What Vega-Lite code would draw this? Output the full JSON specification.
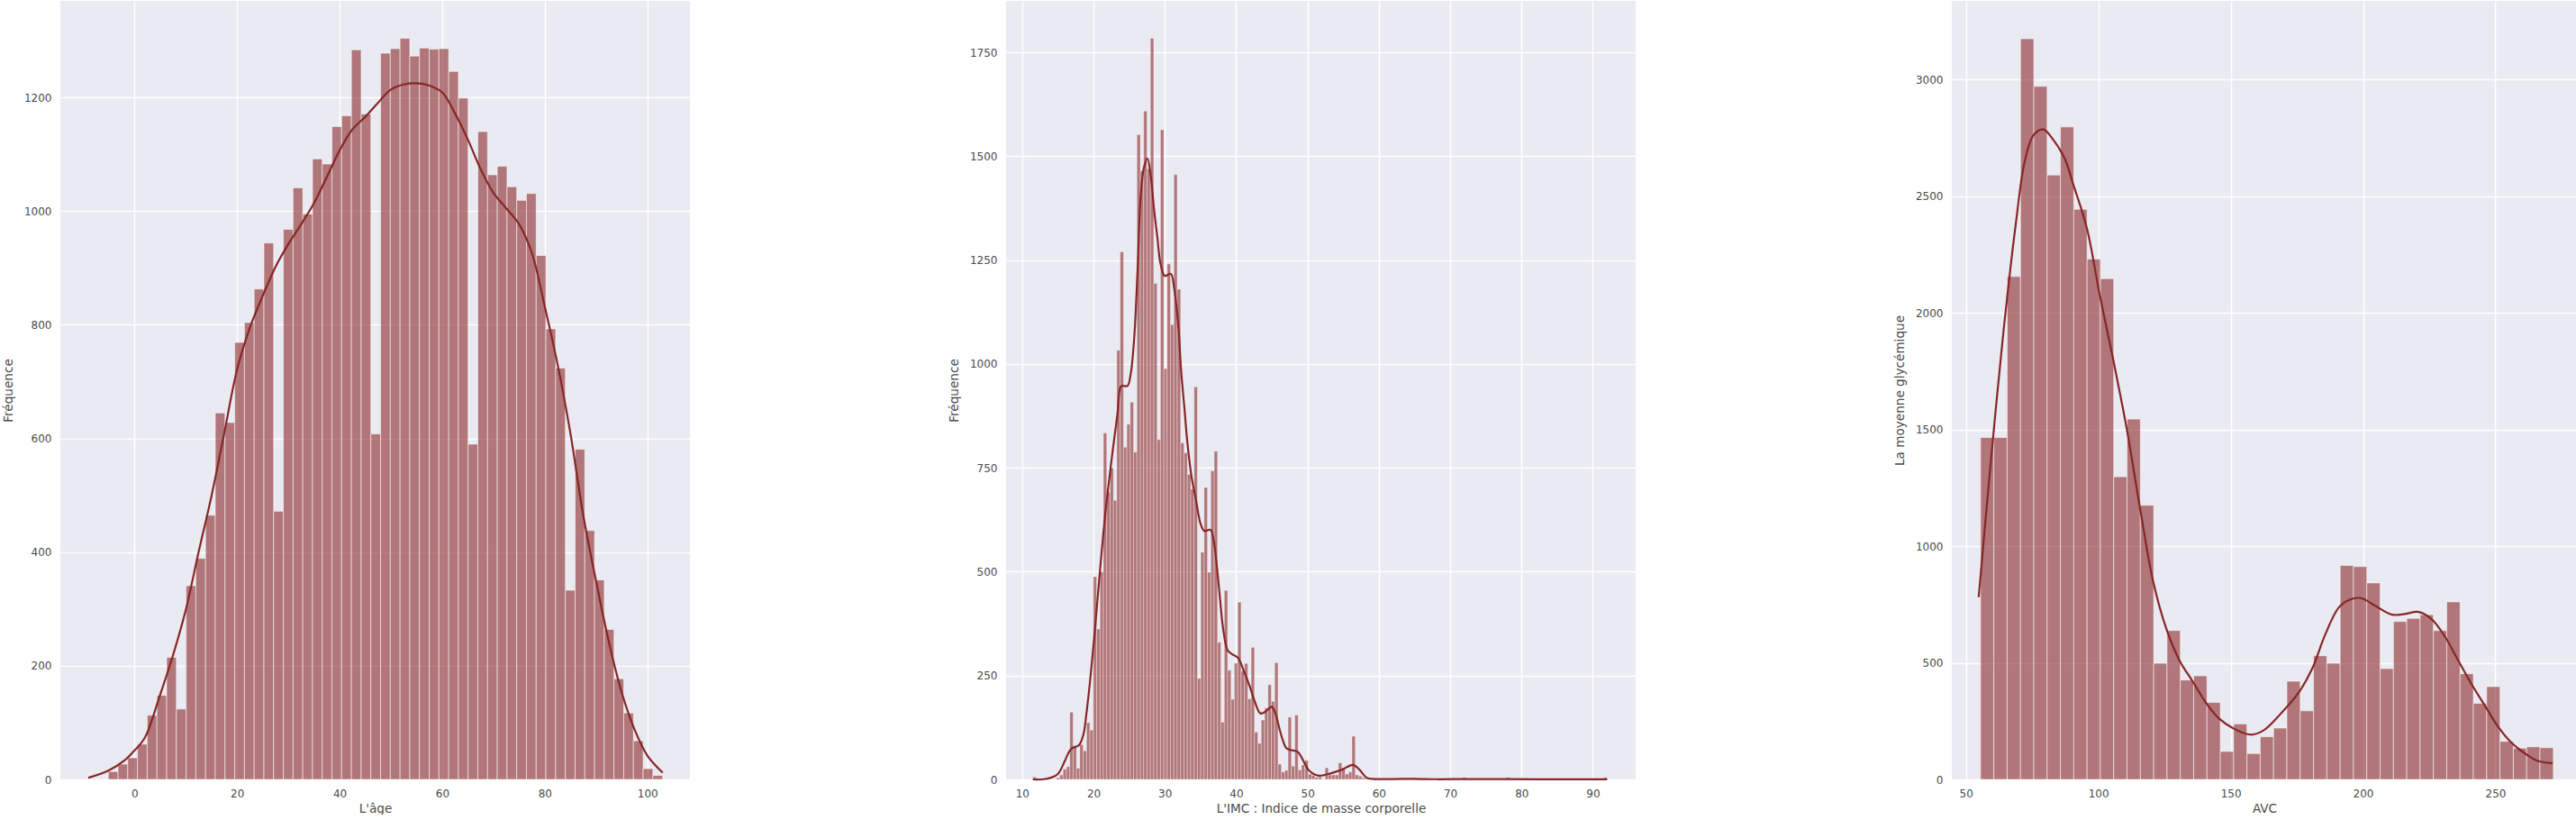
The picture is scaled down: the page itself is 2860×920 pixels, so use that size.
{"$schema":"https://vega.github.io/schema/vega-lite/v6.json","background":"white","padding":{"left":2,"top":1,"right":0,"bottom":0},"bounds":"flush","spacing":351,
"config":{"view":{"stroke":null,"fill":"#eaeaf2"},"font":"DejaVu Sans","axis":{"domain":false,"ticks":false,"grid":true,"gridColor":"#ffffff","gridWidth":1.5,"labelFont":"DejaVu Sans","titleFont":"DejaVu Sans","labelFontSize":12,"titleFontSize":13.6,"labelColor":"#4a4a4a","titleColor":"#4a4a4a","titleFontWeight":"normal","labelPadding":10,"format":"d"}},
"hconcat":[
{"width":699,"height":864,"layer":[
{"data":{"values":[{"a":-5.1,"b":-3.2,"c":14},{"a":-3.2,"b":-1.31,"c":27},{"a":-1.31,"b":0.59,"c":38},{"a":0.59,"b":2.48,"c":62},{"a":2.48,"b":4.38,"c":113},{"a":4.38,"b":6.28,"c":148},{"a":6.28,"b":8.17,"c":215},{"a":8.17,"b":10.07,"c":124},{"a":10.07,"b":11.96,"c":341},{"a":11.96,"b":13.86,"c":389},{"a":13.86,"b":15.76,"c":465},{"a":15.76,"b":17.65,"c":645},{"a":17.65,"b":19.55,"c":628},{"a":19.55,"b":21.44,"c":769},{"a":21.44,"b":23.34,"c":804},{"a":23.34,"b":25.24,"c":863},{"a":25.24,"b":27.13,"c":944},{"a":27.13,"b":29.03,"c":472},{"a":29.03,"b":30.92,"c":968},{"a":30.92,"b":32.82,"c":1041},{"a":32.82,"b":34.72,"c":995},{"a":34.72,"b":36.61,"c":1092},{"a":36.61,"b":38.51,"c":1083},{"a":38.51,"b":40.4,"c":1149},{"a":40.4,"b":42.3,"c":1168},{"a":42.3,"b":44.2,"c":1284},{"a":44.2,"b":46.09,"c":1171},{"a":46.09,"b":47.99,"c":608},{"a":47.99,"b":49.88,"c":1278},{"a":49.88,"b":51.78,"c":1286},{"a":51.78,"b":53.68,"c":1304},{"a":53.68,"b":55.57,"c":1273},{"a":55.57,"b":57.47,"c":1287},{"a":57.47,"b":59.36,"c":1285},{"a":59.36,"b":61.26,"c":1286},{"a":61.26,"b":63.16,"c":1246},{"a":63.16,"b":65.05,"c":1199},{"a":65.05,"b":66.95,"c":590},{"a":66.95,"b":68.84,"c":1140},{"a":68.84,"b":70.74,"c":1064},{"a":70.74,"b":72.64,"c":1079},{"a":72.64,"b":74.53,"c":1043},{"a":74.53,"b":76.43,"c":1019},{"a":76.43,"b":78.32,"c":1031},{"a":78.32,"b":80.22,"c":922},{"a":80.22,"b":82.12,"c":793},{"a":82.12,"b":84.01,"c":724},{"a":84.01,"b":85.91,"c":333},{"a":85.91,"b":87.8,"c":581},{"a":87.8,"b":89.7,"c":438},{"a":89.7,"b":91.6,"c":351},{"a":91.6,"b":93.49,"c":264},{"a":93.49,"b":95.39,"c":177},{"a":95.39,"b":97.28,"c":117},{"a":97.28,"b":99.18,"c":68},{"a":99.18,"b":101.08,"c":19},{"a":101.08,"b":103,"c":7}]},
"mark":{"type":"bar","color":"#801515","fillOpacity":0.55,"stroke":"#ffffff","strokeWidth":0.8,"strokeOpacity":0.7},
"encoding":{"x":{"field":"a","type":"quantitative","scale":{"domain":[-14.45,108.3],"nice":false,"zero":false},"axis":{"values":[0,20,40,60,80,100],"title":"L'âge","titleY":25}},"x2":{"field":"b"},"y":{"field":"c","type":"quantitative","scale":{"domain":[0,1370],"nice":false},"axis":{"values":[0,200,400,600,800,1000,1200],"title":"Fréquence","titleX":-51}},"y2":{"datum":0}}},
{"data":{"values":[{"x":-9,"y":3},{"x":-5,"y":16},{"x":-2,"y":33},{"x":0,"y":51},{"x":2,"y":73},{"x":5,"y":149},{"x":7.5,"y":218},{"x":10,"y":298},{"x":12.5,"y":400},{"x":15,"y":498},{"x":17.5,"y":609},{"x":20,"y":721},{"x":22.5,"y":795},{"x":25,"y":851},{"x":27.5,"y":902},{"x":30,"y":942},{"x":32.5,"y":977},{"x":35,"y":1014},{"x":37.5,"y":1060},{"x":40,"y":1107},{"x":42.5,"y":1144},{"x":45,"y":1166},{"x":47.5,"y":1191},{"x":50,"y":1214},{"x":52.5,"y":1223},{"x":55,"y":1225},{"x":57.5,"y":1221},{"x":60,"y":1209},{"x":62.5,"y":1172},{"x":65,"y":1126},{"x":67.5,"y":1074},{"x":70,"y":1032},{"x":72.5,"y":1005},{"x":75,"y":977},{"x":77.5,"y":926},{"x":80,"y":832},{"x":82.5,"y":730},{"x":85,"y":609},{"x":87.5,"y":465},{"x":90,"y":349},{"x":92.5,"y":242},{"x":95,"y":153},{"x":97.5,"y":88},{"x":100,"y":42},{"x":103,"y":12}]},
"mark":{"type":"line","color":"#872626","strokeWidth":2.2,"interpolate":"catmull-rom"},
"encoding":{"x":{"field":"x","type":"quantitative"},"y":{"field":"y","type":"quantitative"}}}
]},
{"width":699,"height":864,"layer":[
{"data":{"values":[{"a":11.5,"b":11.97,"c":6},{"a":14.32,"b":14.8,"c":1},{"a":14.8,"b":15.27,"c":4},{"a":15.27,"b":15.74,"c":11},{"a":15.74,"b":16.21,"c":25},{"a":16.21,"b":16.68,"c":31},{"a":16.68,"b":17.15,"c":162},{"a":17.15,"b":17.62,"c":80},{"a":17.62,"b":18.09,"c":27},{"a":18.09,"b":18.56,"c":84},{"a":18.56,"b":19.03,"c":69},{"a":19.03,"b":19.5,"c":137},{"a":19.5,"b":19.97,"c":119},{"a":19.97,"b":20.45,"c":488},{"a":20.45,"b":20.92,"c":362},{"a":20.92,"b":21.39,"c":500},{"a":21.39,"b":21.86,"c":834},{"a":21.86,"b":22.33,"c":692},{"a":22.33,"b":22.8,"c":750},{"a":22.8,"b":23.27,"c":672},{"a":23.27,"b":23.74,"c":1033},{"a":23.74,"b":24.21,"c":1270},{"a":24.21,"b":24.68,"c":800},{"a":24.68,"b":25.15,"c":855},{"a":25.15,"b":25.62,"c":908},{"a":25.62,"b":26.09,"c":788},{"a":26.09,"b":26.57,"c":1552},{"a":26.57,"b":27.04,"c":1465},{"a":27.04,"b":27.51,"c":1609},{"a":27.51,"b":27.98,"c":1470},{"a":27.98,"b":28.45,"c":1784},{"a":28.45,"b":28.92,"c":1194},{"a":28.92,"b":29.39,"c":818},{"a":29.39,"b":29.86,"c":1564},{"a":29.86,"b":30.33,"c":989},{"a":30.33,"b":30.8,"c":1241},{"a":30.8,"b":31.27,"c":1095},{"a":31.27,"b":31.74,"c":1456},{"a":31.74,"b":32.22,"c":1180},{"a":32.22,"b":32.69,"c":810},{"a":32.69,"b":33.16,"c":786},{"a":33.16,"b":33.63,"c":734},{"a":33.63,"b":34.1,"c":699},{"a":34.1,"b":34.57,"c":945},{"a":34.57,"b":35.04,"c":243},{"a":35.04,"b":35.51,"c":547},{"a":35.51,"b":35.98,"c":703},{"a":35.98,"b":36.45,"c":499},{"a":36.45,"b":36.92,"c":743},{"a":36.92,"b":37.39,"c":790},{"a":37.39,"b":37.86,"c":330},{"a":37.86,"b":38.34,"c":138},{"a":38.34,"b":38.81,"c":455},{"a":38.81,"b":39.28,"c":263},{"a":39.28,"b":39.75,"c":193},{"a":39.75,"b":40.22,"c":280},{"a":40.22,"b":40.69,"c":427},{"a":40.69,"b":41.16,"c":261},{"a":41.16,"b":41.63,"c":279},{"a":41.63,"b":42.1,"c":194},{"a":42.1,"b":42.57,"c":318},{"a":42.57,"b":43.04,"c":114},{"a":43.04,"b":43.51,"c":87},{"a":43.51,"b":43.99,"c":143},{"a":43.99,"b":44.46,"c":172},{"a":44.46,"b":44.93,"c":228},{"a":44.93,"b":45.4,"c":188},{"a":45.4,"b":45.87,"c":281},{"a":45.87,"b":46.34,"c":37},{"a":46.34,"b":46.81,"c":18},{"a":46.81,"b":47.28,"c":22},{"a":47.28,"b":47.75,"c":150},{"a":47.75,"b":48.22,"c":32},{"a":48.22,"b":48.69,"c":155},{"a":48.69,"b":49.16,"c":23},{"a":49.16,"b":49.63,"c":35},{"a":49.63,"b":50.11,"c":46},{"a":50.11,"b":50.58,"c":13},{"a":50.58,"b":51.05,"c":10},{"a":51.05,"b":51.52,"c":5},{"a":51.52,"b":51.99,"c":6},{"a":51.99,"b":52.46,"c":1},{"a":52.46,"b":52.93,"c":28},{"a":52.93,"b":53.4,"c":11},{"a":53.4,"b":53.87,"c":11},{"a":53.87,"b":54.34,"c":11},{"a":54.34,"b":54.81,"c":40},{"a":54.81,"b":55.28,"c":28},{"a":55.28,"b":55.76,"c":13},{"a":55.76,"b":56.23,"c":18},{"a":56.23,"b":56.7,"c":104},{"a":56.7,"b":57.17,"c":11},{"a":57.17,"b":57.64,"c":8},{"a":57.64,"b":58.11,"c":4},{"a":58.11,"b":58.58,"c":2},{"a":64.7,"b":65.17,"c":4},{"a":71.76,"b":72.23,"c":5},{"a":77.88,"b":78.35,"c":5},{"a":91.54,"b":92,"c":5}]},
"mark":{"type":"bar","color":"#801515","fillOpacity":0.55,"stroke":"#ffffff","strokeWidth":0.7,"strokeOpacity":0.55},
"encoding":{"x":{"field":"a","type":"quantitative","scale":{"domain":[7.75,96],"nice":false,"zero":false},"axis":{"values":[10,20,30,40,50,60,70,80,90],"title":"L'IMC : Indice de masse corporelle","titleY":25}},"x2":{"field":"b"},"y":{"field":"c","type":"quantitative","scale":{"domain":[0,1874],"nice":false},"axis":{"values":[0,250,500,750,1000,1250,1500,1750],"title":"Fréquence","titleX":-51}},"y2":{"datum":0}}},
{"data":{"values":[{"x":11.5,"y":0},{"x":13,"y":0.5},{"x":14,"y":4},{"x":15,"y":13},{"x":16,"y":45},{"x":16.5,"y":64},{"x":17,"y":75},{"x":18,"y":83},{"x":18.6,"y":109},{"x":19,"y":157},{"x":19.6,"y":250},{"x":20.3,"y":380},{"x":20.9,"y":500},{"x":21.6,"y":630},{"x":22.4,"y":750},{"x":23.36,"y":880},{"x":23.9,"y":947},{"x":24.75,"y":947},{"x":25.2,"y":974},{"x":25.7,"y":1060},{"x":26.2,"y":1234},{"x":26.6,"y":1400},{"x":27.06,"y":1472},{"x":27.56,"y":1495},{"x":28,"y":1457},{"x":28.5,"y":1371},{"x":28.95,"y":1306},{"x":29.4,"y":1241},{"x":30,"y":1212},{"x":30.85,"y":1217},{"x":31.3,"y":1183},{"x":31.9,"y":1090},{"x":32.3,"y":981},{"x":32.8,"y":884},{"x":33.1,"y":822},{"x":33.75,"y":728},{"x":34.4,"y":670},{"x":35,"y":616},{"x":35.55,"y":598},{"x":36.4,"y":601},{"x":36.9,"y":569},{"x":37.3,"y":512},{"x":37.7,"y":442},{"x":38.15,"y":366},{"x":38.8,"y":311},{"x":39.4,"y":302},{"x":40.25,"y":293},{"x":41.1,"y":260},{"x":41.9,"y":224},{"x":42.6,"y":188},{"x":43.4,"y":159},{"x":44,"y":162},{"x":45,"y":175},{"x":45.5,"y":159},{"x":46.1,"y":120},{"x":46.55,"y":94},{"x":47,"y":76},{"x":47.6,"y":71},{"x":48.65,"y":66},{"x":49.5,"y":42},{"x":50.3,"y":20},{"x":51.6,"y":9},{"x":53.3,"y":15},{"x":54.75,"y":23},{"x":56.4,"y":35},{"x":57.3,"y":23},{"x":58.3,"y":4},{"x":59.4,"y":1},{"x":62,"y":1},{"x":65,"y":1.5},{"x":68,"y":0.5},{"x":72,"y":0.8},{"x":78,"y":0.8},{"x":85,"y":0.2},{"x":92,"y":0.3}]},
"mark":{"type":"line","color":"#872626","strokeWidth":2.2,"interpolate":"catmull-rom"},
"encoding":{"x":{"field":"x","type":"quantitative"},"y":{"field":"y","type":"quantitative"}}}
]},
{"width":694,"height":864,"layer":[
{"data":{"values":[{"a":55.5,"b":60.53,"c":1465},{"a":60.53,"b":65.56,"c":1465},{"a":65.56,"b":70.6,"c":2155},{"a":70.6,"b":75.63,"c":3174},{"a":75.63,"b":80.66,"c":2970},{"a":80.66,"b":85.69,"c":2590},{"a":85.69,"b":90.72,"c":2796},{"a":90.72,"b":95.76,"c":2443},{"a":95.76,"b":100.79,"c":2230},{"a":100.79,"b":105.82,"c":2146},{"a":105.82,"b":110.85,"c":1297},{"a":110.85,"b":115.88,"c":1544},{"a":115.88,"b":120.92,"c":1175},{"a":120.92,"b":125.95,"c":498},{"a":125.95,"b":130.98,"c":638},{"a":130.98,"b":136.01,"c":426},{"a":136.01,"b":141.04,"c":444},{"a":141.04,"b":146.08,"c":330},{"a":146.08,"b":151.11,"c":120},{"a":151.11,"b":156.14,"c":238},{"a":156.14,"b":161.17,"c":111},{"a":161.17,"b":166.2,"c":183},{"a":166.2,"b":171.24,"c":220},{"a":171.24,"b":176.27,"c":421},{"a":176.27,"b":181.3,"c":294},{"a":181.3,"b":186.33,"c":530},{"a":186.33,"b":191.36,"c":498},{"a":191.36,"b":196.4,"c":917},{"a":196.4,"b":201.43,"c":912},{"a":201.43,"b":206.46,"c":842},{"a":206.46,"b":211.49,"c":475},{"a":211.49,"b":216.52,"c":677},{"a":216.52,"b":221.56,"c":690},{"a":221.56,"b":226.59,"c":706},{"a":226.59,"b":231.62,"c":638},{"a":231.62,"b":236.65,"c":761},{"a":236.65,"b":241.68,"c":453},{"a":241.68,"b":246.72,"c":326},{"a":246.72,"b":251.75,"c":398},{"a":251.75,"b":256.78,"c":163},{"a":256.78,"b":261.81,"c":134},{"a":261.81,"b":266.84,"c":140},{"a":266.84,"b":271.9,"c":136}]},
"mark":{"type":"bar","color":"#801515","fillOpacity":0.55,"stroke":"#ffffff","strokeWidth":0.8,"strokeOpacity":0.7},
"encoding":{"x":{"field":"a","type":"quantitative","scale":{"domain":[44.65,280.8],"nice":false,"zero":false},"axis":{"values":[50,100,150,200,250],"title":"AVC","titleY":25}},"x2":{"field":"b"},"y":{"field":"c","type":"quantitative","scale":{"domain":[0,3336],"nice":false},"axis":{"values":[0,500,1000,1500,2000,2500,3000],"title":"La moyenne glycémique","titleX":-51}},"y2":{"datum":0}}},
{"data":{"values":[{"x":54.8,"y":781},{"x":58.9,"y":1302},{"x":63.9,"y":1890},{"x":68.9,"y":2388},{"x":72.2,"y":2649},{"x":75.6,"y":2762},{"x":79.2,"y":2785},{"x":83.1,"y":2739},{"x":87.3,"y":2660},{"x":90.6,"y":2547},{"x":95.6,"y":2366},{"x":100.6,"y":2072},{"x":105.6,"y":1800},{"x":110.7,"y":1505},{"x":115.7,"y":1166},{"x":120.7,"y":849},{"x":125.7,"y":645},{"x":130.7,"y":509},{"x":135.7,"y":419},{"x":140.7,"y":328},{"x":145.7,"y":260},{"x":150.8,"y":220},{"x":157.4,"y":192},{"x":162.4,"y":210},{"x":169,"y":283},{"x":175.8,"y":374},{"x":180.8,"y":475},{"x":185.8,"y":623},{"x":190.8,"y":736},{"x":195,"y":770},{"x":199.2,"y":777},{"x":204.2,"y":747},{"x":210.9,"y":706},{"x":215.9,"y":709},{"x":221,"y":718},{"x":226,"y":686},{"x":231,"y":611},{"x":236,"y":509},{"x":241,"y":408},{"x":246,"y":317},{"x":251,"y":226},{"x":256,"y":158},{"x":261,"y":113},{"x":266,"y":79},{"x":271.6,"y":70}]},
"mark":{"type":"line","color":"#872626","strokeWidth":2.2,"interpolate":"catmull-rom"},
"encoding":{"x":{"field":"x","type":"quantitative"},"y":{"field":"y","type":"quantitative"}}}
]}
]}
